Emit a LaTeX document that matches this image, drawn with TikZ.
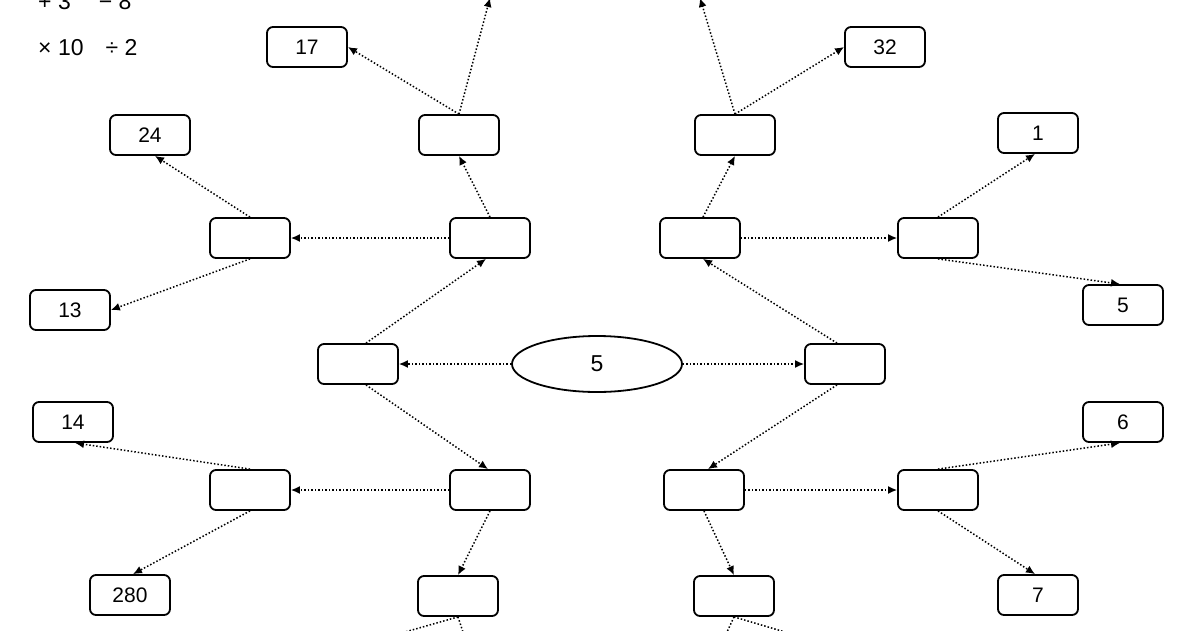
\documentclass[tikz,border=0pt]{standalone}
\usepackage{fontspec}
\setmainfont{Liberation Sans}
\usetikzlibrary{arrows.meta,shapes.geometric}
\begin{document}
\begin{tikzpicture}[x=1pt,y=-1pt,
 box/.style={draw,line width=1.8pt,rounded corners=6pt,minimum width=80pt,minimum height=40pt,inner sep=0pt,font=\fontsize{21}{21}\selectfont},
 ar/.style={dotted,line width=1.5pt,-{Latex[length=9pt,width=8pt]}},
 ln/.style={dotted,line width=1.5pt},
 lab/.style={font=\fontsize{23}{23}\selectfont,anchor=west,inner sep=0pt}]
\useasboundingbox (0,0) rectangle (1200,630);
\node[lab] (t1) at (38,2) {+ 3\hspace{28pt}− 8};
\node[lab] (t2) at (38,48) {× 10\hspace{22pt}÷ 2};
\node[box] (n17) at (307,47) {17};
\node[box] (n32) at (885,47) {32};
\node[box] (A1) at (459,135) {};
\node[box] (B1) at (735,135) {};
\node[box] (n24) at (150,135) {24};
\node[box] (n1) at (1038,133) {1};
\node[box] (L2) at (250,238) {};
\node[box] (L1) at (490,238) {};
\node[box] (R1) at (700,238) {};
\node[box] (R2) at (938,238) {};
\node[box] (n13) at (70,310) {13};
\node[box] (n5) at (1123,305) {5};
\node[box] (ML) at (358,364) {};
\node[draw,line width=1.8pt,ellipse,minimum width=170pt,minimum height=56pt,font=\fontsize{23}{23}\selectfont] (E) at (597,364) {5};
\node[box] (MR) at (845,364) {};
\node[box] (n14) at (73,422) {14};
\node[box] (n6) at (1123,422) {6};
\node[box] (L3) at (250,490) {};
\node[box] (L4) at (490,490) {};
\node[box] (R4) at (704,490) {};
\node[box] (R3) at (938,490) {};
\node[box] (n280) at (130,595) {280};
\node[box] (BL) at (458,596) {};
\node[box] (BR) at (734,596) {};
\node[box] (n7) at (1038,595) {7};
\coordinate (uA) at (490,-2);
\coordinate (uB) at (700,-2);
\coordinate (dA1) at (405,632);
\coordinate (dA2) at (463,632);
\coordinate (dB1) at (727,632);
\coordinate (dB2) at (785,632);
\draw[ar] (E) -- (ML);
\draw[ar] (E) -- (MR);
\draw[ar] ([xshift=8pt]ML.north) -- ([xshift=-4pt]L1.south);
\draw[ar] ([xshift=8pt]ML.south) -- ([xshift=-2pt]L4.north);
\draw[ar] ([xshift=-8pt]MR.north) -- ([xshift=3pt]R1.south);
\draw[ar] ([xshift=-8pt]MR.south) -- ([xshift=4pt]R4.north);
\draw[ar] (L1) -- (L2);
\draw[ar] (L1.north) -- (A1.south);
\draw[ar] (A1.north) -- (n17.east);
\draw[ar] (A1.north) -- (uA);
\draw[ar] (B1.north) -- (n32.west);
\draw[ar] (B1.north) -- (uB);
\draw[ar] ([xshift=3pt]R1.north) -- (B1.south);
\draw[ar] (R1) -- (R2);
\draw[ar] (R2.north) -- ([xshift=-3pt]n1.south);
\draw[ar] (R2.south) -- ([xshift=-3pt]n5.north);
\draw[ar] (L2.north) -- ([xshift=5pt]n24.south);
\draw[ar] (L2.south) -- (n13.east);
\draw[ar] (L4) -- (L3);
\draw[ar] (L4.south) -- (BL.north);
\draw[ar] (L3.north) -- ([xshift=2pt]n14.south);
\draw[ar] (L3.south) -- ([xshift=3pt]n280.north);
\draw[ar] (R4) -- (R3);
\draw[ar] (R4.south) -- (BR.north);
\draw[ar] (R3.north) -- ([xshift=-3pt]n6.south);
\draw[ar] (R3.south) -- ([xshift=-3pt]n7.north);
\draw[ln] (BL.south) -- (dA1);
\draw[ln] (BL.south) -- (dA2);
\draw[ln] (BR.south) -- (dB1);
\draw[ln] (BR.south) -- (dB2);
\end{tikzpicture}
\end{document}
